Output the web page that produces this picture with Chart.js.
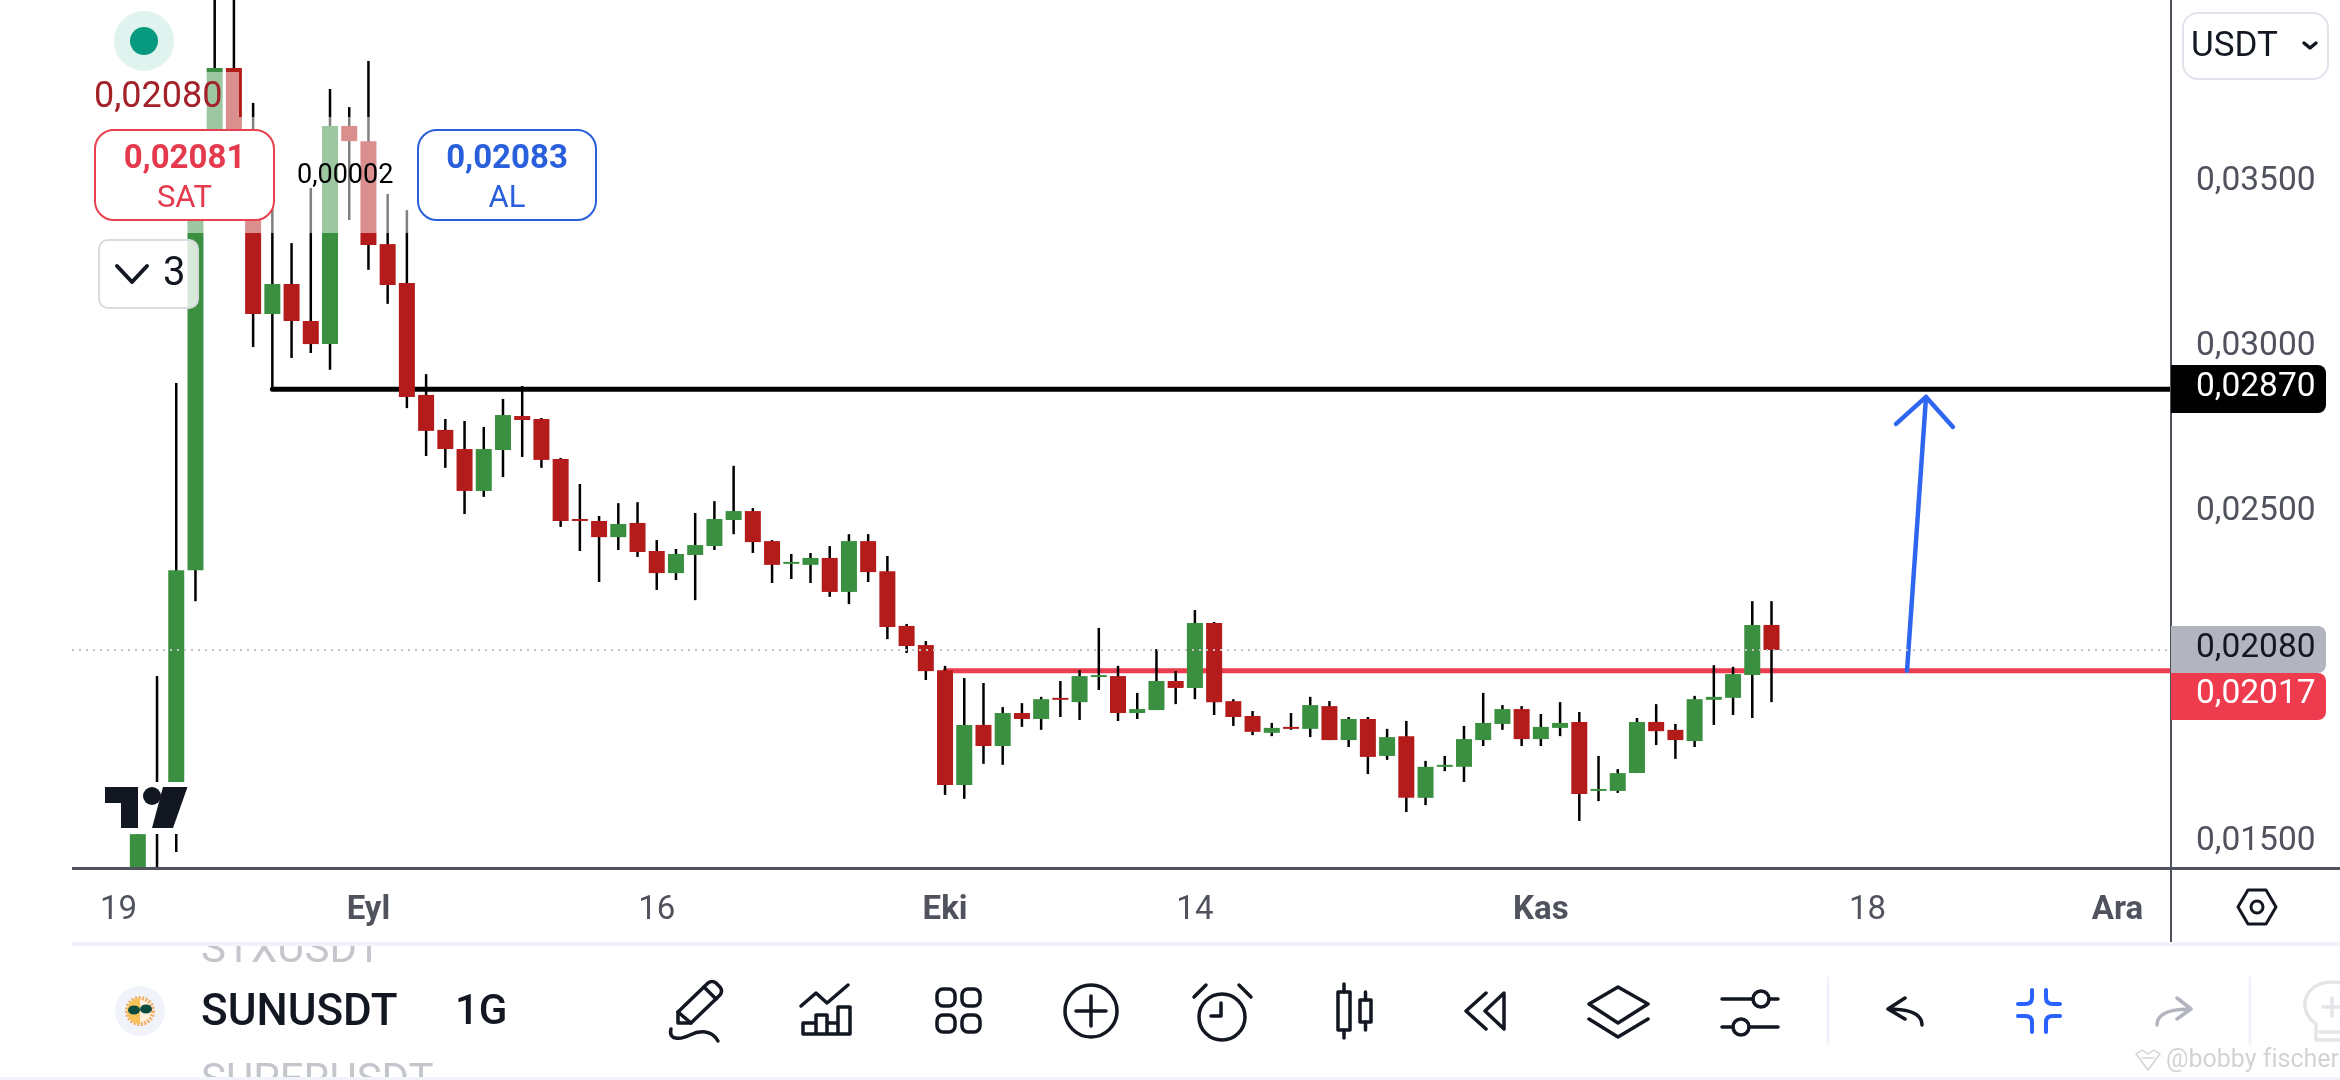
<!DOCTYPE html>
<html lang="tr"><head><meta charset="utf-8">
<style>
html,body{margin:0;padding:0;background:#fff;width:2340px;height:1080px;overflow:hidden;font-family:Roboto,sans-serif}
#c{position:absolute;left:0;top:0}
.a{position:absolute}
.t{position:absolute;height:100px;line-height:100px;white-space:nowrap}
.tag{position:absolute;left:2171px;width:155px;border-radius:0 8px 8px 0}
.ctr{text-align:center}
</style></head><body>
<canvas id="c" width="2340" height="1080"></canvas>

<div class="a" style="left:90px;top:72px;width:149px;height:45px;background:rgba(255,255,255,.5)"></div>
<div class="a" style="left:90px;top:117px;width:507px;height:116px;background:rgba(255,255,255,.5)"></div>

<div class="a" style="left:114px;top:11px;width:60px;height:60px;border-radius:50%;background:#e0f3ef"></div>
<div class="a" style="left:130px;top:27px;width:28px;height:28px;border-radius:50%;background:#089981"></div>
<div class="t" style="left:94px;top:45px;font-size:36px;color:#a3222a">0,02080</div>

<div class="a" style="left:94px;top:129px;width:177px;height:88px;border:2px solid #e8404f;border-radius:20px;background:#fff"></div>
<div class="t ctr" style="left:94px;width:181px;top:107px;font-size:33px;font-weight:700;color:#e53a4e">0,02081</div>
<div class="t ctr" style="left:94px;width:181px;top:147px;font-size:31px;color:#e53a4e">SAT</div>
<div class="a" style="left:417px;top:129px;width:176px;height:88px;border:2px solid #2a5fdc;border-radius:20px;background:#fff"></div>
<div class="t ctr" style="left:417px;width:180px;top:107px;font-size:33px;font-weight:700;color:#2a5fdc">0,02083</div>
<div class="t ctr" style="left:417px;width:180px;top:147px;font-size:31px;color:#2a5fdc">AL</div>
<div class="t" style="left:297px;top:124px;font-size:27px;color:#000">0,00002</div>

<div class="a" style="left:98px;top:239px;width:97px;height:66px;border:2px solid #d8dae0;border-radius:10px;background:rgba(255,255,255,.8)"></div>
<div class="t" style="left:163px;top:222px;font-size:40px;color:#131722">3</div>

<div class="a" style="left:2182px;top:12px;width:143px;height:64px;border:2px solid #e0e3eb;border-radius:16px;background:#fff"></div>
<div class="t" style="left:2191px;top:-5px;font-size:35px;color:#131722">USDT</div>

<div class="a" style="left:2170px;top:0;width:2px;height:942px;background:#50535e"></div>
<div class="a" style="left:72px;top:867px;width:2268px;height:3px;background:#50535e"></div>
<div class="a" style="left:72px;top:942px;width:2268px;height:4px;background:#f0f3fa"></div>
<div class="a" style="left:0;top:1077px;width:2340px;height:3px;background:#f0f3fa"></div>

<div class="tag" style="top:365px;height:48px;background:#000"></div>
<div class="t" style="left:2196px;top:335px;font-size:33.5px;color:#fff">0,02870</div>
<div class="tag" style="top:626px;height:47px;background:#b2b5be"></div>
<div class="t" style="left:2196px;top:596px;font-size:33.5px;color:#131722">0,02080</div>
<div class="tag" style="top:673px;height:47px;background:#ee3b4d"></div>
<div class="t" style="left:2196px;top:642px;font-size:33.5px;color:#fff">0,02017</div>

<div class="t" style="left:201px;top:898px;font-size:42px;color:#c4c6cc;clip-path:inset(48px -10px 0 -10px)">STXUSDT</div>
<div class="t" style="left:201px;top:1029px;font-size:42px;color:#c4c6cc;clip-path:inset(0 -10px 52px -10px)">SUPERUSDT</div>
<div class="t" style="left:201px;top:960px;font-size:44px;font-weight:500;color:#131722">SUNUSDT</div>
<div class="t" style="left:455px;top:960px;font-size:42px;font-weight:500;color:#131722">1G</div>
<div class="t" style="left:2166px;top:1009px;font-size:25px;color:#d2d3d6">@bobby fischer</div>

<svg class="a" style="left:0;top:0" width="2340" height="1080" viewBox="0 0 2340 1080" fill="none" stroke="#131722" stroke-width="3.5" stroke-linejoin="round" stroke-linecap="round">
  <rect x="100" y="782" width="90" height="52" fill="#fff" stroke="none"/>
  <path d="M105 787H138V828H121V803H105Z" fill="#131722" stroke="none"/>
  <ellipse cx="152" cy="796" rx="9" ry="9" fill="#131722" stroke="none"/>
  <path d="M163 787H187.5L173 828H152Z" fill="#131722" stroke="none"/>
  <path d="M117 266L132 282L147 266" stroke-width="4"/>
  <path d="M2304 43L2310 48L2316 43" stroke-width="3.5"/>
  <path d="M2238 907L2248 890H2266L2276 907L2266 924H2248Z" stroke-width="3"/>
  <circle cx="2257" cy="907" r="6" stroke-width="3"/>
  <circle cx="140" cy="1011" r="25" fill="#f0f3fa" stroke="none"/>
  <circle cx="140" cy="1011" r="13" fill="#fdf0dc" stroke="#f2ab63" stroke-width="4" stroke-dasharray="2 1.5" stroke-linecap="butt"/>
  <path d="M140 998A13 13 0 0 0 140 1024Z" fill="#f7c25a" stroke="none"/>
  <ellipse cx="134" cy="1010" rx="6" ry="4.5" fill="#0c4a3d" stroke="none"/>
  <ellipse cx="146" cy="1009" rx="6" ry="4.5" fill="#0c4a3d" stroke="none"/>
  <path d="M678 1012L708 983Q712 980 716 983L720 987Q723 991 720 995L691 1023H678Z"/>
  <path d="M678 1012L691 1023M704 987L716 999"/>
  <path d="M671 1029C668 1040 680 1040 690 1035C700 1030 712 1030 718 1041"/>
  <path d="M801 1006L816 993L827 1003L848 985"/>
  <path d="M803 1034V1023H816V1015H827V1023H838V1007H850V1034ZM816 1023V1034M827 1023V1034M838 1023V1034"/>
  <rect x="937" y="989" width="18" height="17" rx="6"/><rect x="962" y="989" width="18" height="17" rx="6"/>
  <rect x="937" y="1015" width="18" height="17" rx="6"/><rect x="962" y="1015" width="18" height="17" rx="6"/>
  <circle cx="1091" cy="1011" r="26"/><path d="M1091 996V1026M1076 1011H1106"/>
  <circle cx="1222" cy="1017" r="23"/><path d="M1221 1003V1016H1211M1206 985L1194 997M1239 985L1251 997"/>
  <path d="M1344 984V992M1344 1030V1038M1365.5 992V1000M1365.5 1022V1030"/>
  <rect x="1338" y="992" width="12" height="38"/><rect x="1360" y="1000" width="11" height="22"/>
  <path d="M1504 993L1485 1011L1504 1029ZM1486 993L1466 1011L1486 1029"/>
  <path d="M1618 987L1648 1004L1618 1023L1589 1004ZM1589 1019L1618 1037L1648 1019"/>
  <path d="M1722 999H1753M1769 999H1778M1722 1027H1733M1749 1027H1778"/>
  <circle cx="1761" cy="999" r="8"/><circle cx="1741" cy="1027" r="8"/>
  <path d="M1828 978V1043M2250 978V1043" stroke="#f0f3fa" stroke-width="3"/>
  <path d="M1905 998L1888 1009L1905 1019M1888 1009C1905 1009 1922 1012 1922 1025"/>
  <path d="M2032 990V998Q2032 1004 2025 1004H2018M2046 990V998Q2046 1004 2053 1004H2060M2032 1032V1022Q2032 1016 2025 1016H2018M2046 1032V1022Q2046 1016 2053 1016H2060" stroke="#2962ff" stroke-width="4"/>
  <path d="M2177 998L2191 1009L2177 1019M2191 1009C2175 1009 2157 1012 2157 1025" stroke="#b2b5be"/>
  <path d="M2316 1024C2296 1010 2304 982 2332 982C2336 982 2338 982 2340 983M2316 1024V1040H2340M2320 1032H2340M2332 998V1016M2323 1007H2340" stroke="#e4e5e8"/>
  <path d="M2136 1054L2142 1050L2148 1054L2154 1050L2160 1054L2148 1070ZM2142 1058H2154" stroke="#d2d3d6" stroke-width="1.5"/>
</svg>

<script src="https://cdn.jsdelivr.net/npm/chart.js@4"></script>
<script>
// One entry per daily candle, 20 Aug onward
const opens  = [0.01398,0.01565,0.01595,0.02322,0.03535,0.03844,0.03595,0.03098,0.03189,0.03077,0.03007,0.03668,0.03622,0.03310,0.03192,0.02853,0.02747,0.02689,0.02562,0.02686,0.02789,0.02780,0.02659,0.02477,0.02471,0.02422,0.02465,0.02380,0.02313,0.02368,0.02395,0.02474,0.02501,0.02410,0.02341,0.02338,0.02359,0.02256,0.02410,0.02319,0.02153,0.02095,0.02019,0.01671,0.01853,0.01789,0.01889,0.01871,0.01935,0.01922,0.01998,0.02001,0.01889,0.01898,0.01986,0.01965,0.02162,0.01925,0.01880,0.01829,0.01847,0.01841,0.01910,0.01807,0.01871,0.01759,0.01819,0.01632,0.01726,0.01726,0.01807,0.01856,0.01901,0.01810,0.01844,0.01862,0.01653,0.01653,0.01707,0.01862,0.01838,0.01804,0.01929,0.01935,0.02004,0.02156];
const highs  = [0.01522,0.02001,0.02889,0.03610,0.04141,0.04150,0.03738,0.03444,0.03313,0.03480,0.03780,0.03725,0.03865,0.03462,0.03413,0.02916,0.02780,0.02774,0.02756,0.02841,0.02880,0.02783,0.02662,0.02583,0.02486,0.02525,0.02528,0.02413,0.02386,0.02495,0.02531,0.02638,0.02510,0.02413,0.02371,0.02374,0.02395,0.02431,0.02431,0.02365,0.02159,0.02107,0.02032,0.01995,0.01980,0.01907,0.01919,0.01938,0.01986,0.02019,0.02147,0.02032,0.01950,0.02083,0.02016,0.02201,0.02165,0.01931,0.01895,0.01859,0.01889,0.01938,0.01925,0.01877,0.01877,0.01841,0.01865,0.01744,0.01759,0.01850,0.01950,0.01913,0.01910,0.01886,0.01922,0.01892,0.01759,0.01719,0.01874,0.01916,0.01856,0.01941,0.02034,0.02029,0.02228,0.02228];
const lows   = [0.01383,0.01383,0.01468,0.02228,0.03489,0.03444,0.02998,0.02871,0.02965,0.02980,0.02929,0.03383,0.03232,0.03129,0.02813,0.02668,0.02632,0.02492,0.02544,0.02604,0.02665,0.02632,0.02453,0.02380,0.02286,0.02383,0.02362,0.02262,0.02292,0.02231,0.02383,0.02431,0.02374,0.02283,0.02295,0.02283,0.02241,0.02219,0.02286,0.02113,0.02071,0.01989,0.01641,0.01629,0.01735,0.01732,0.01847,0.01838,0.01877,0.01868,0.01959,0.01865,0.01871,0.01898,0.01916,0.01931,0.01883,0.01850,0.01822,0.01819,0.01838,0.01816,0.01807,0.01786,0.01704,0.01747,0.01589,0.01610,0.01713,0.01680,0.01789,0.01838,0.01789,0.01789,0.01819,0.01562,0.01622,0.01647,0.01707,0.01792,0.01750,0.01786,0.01853,0.01883,0.01874,0.01922];
const closes = [0.01522,0.01625,0.02322,0.03535,0.03844,0.03595,0.03098,0.03189,0.03077,0.03007,0.03668,0.03622,0.03307,0.03186,0.02847,0.02744,0.02689,0.02562,0.02689,0.02792,0.02777,0.02656,0.02471,0.02471,0.02422,0.02462,0.02377,0.02313,0.02371,0.02398,0.02477,0.02501,0.02407,0.02338,0.02347,0.02359,0.02256,0.02410,0.02316,0.02150,0.02092,0.02016,0.01671,0.01853,0.01789,0.01889,0.01871,0.01931,0.01929,0.02001,0.02004,0.01889,0.01901,0.01986,0.01965,0.02162,0.01922,0.01877,0.01832,0.01844,0.01841,0.01913,0.01807,0.01871,0.01756,0.01816,0.01632,0.01726,0.01732,0.01810,0.01859,0.01901,0.01810,0.01847,0.01859,0.01644,0.01659,0.01707,0.01862,0.01834,0.01807,0.01931,0.01938,0.02007,0.02156,0.02080];

// x-axis: day numbers counted from the first candle
const tickDays   = [-1,12,27,42,55,73,90,103];
const tickLabels = ['19','Eyl','16','Eki','14','Kas','18','Ara'];
const monthTicks = ['Eyl','Eki','Kas','Ara'];
const priceTicks = [0.015,0.025,0.03,0.035];

const lastPrice   = 0.0208;
const resistance  = 0.0287;
const supportLine = 0.02017;
const resistanceStartDay = 7;
const supportStartDay    = 42;
const arrowShaft = [[92.05,0.02017],[93.04,0.02847]];
const arrowHead  = [[91.48,0.02765],[93.04,0.02847],[94.44,0.02756]];

const xMin = -3.424, xMax = 105.786, yMin = 0.014194, yMax = 0.040497;
const UP = '#3a8f40', DOWN = '#b41c1c';

const days = opens.map((_, i) => i);
const pts = a => a.map(p => ({x:p[0], y:p[1]}));
const lineDs = (data, color, width, order, extra) => Object.assign({
  type:'line', data, borderColor:color, borderWidth:width, pointRadius:0, order,
  borderCapStyle:'round', borderJoinStyle:'round', tension:0
}, extra||{});
const isMonth = c => !!c.tick && monthTicks.includes(tickLabels[tickDays.indexOf(c.tick.value)]);
const noPad = s => { s.paddingTop = s.paddingBottom = s.paddingLeft = s.paddingRight = 0; };

new Chart(document.getElementById('c'), {
  type:'bar',
  data:{datasets:[
    { label:'body', order:1, grouped:false, barThickness:16, borderWidth:0, inflateAmount:0,
      data:days.map(i => ({x:i, y:[opens[i], closes[i]]})),
      backgroundColor:days.map(i => closes[i] >= opens[i] ? UP : DOWN) },
    { label:'wick', order:2, grouped:false, barThickness:2.5, borderWidth:0, inflateAmount:0,
      data:days.map(i => ({x:i, y:[lows[i], highs[i]]})),
      backgroundColor:'#000' },
    lineDs([{x:resistanceStartDay,y:resistance},{x:xMax,y:resistance}], '#000', 5, 3),
    lineDs([{x:supportStartDay,y:supportLine},{x:xMax,y:supportLine}], '#ec3d4f', 5, 3),
    lineDs([{x:xMin,y:lastPrice},{x:xMax,y:lastPrice}], '#c4c4c4', 2, 0, {borderDash:[2,5], borderCapStyle:'butt'}),
    lineDs(pts(arrowShaft), '#2f66f0', 4.5, 0),
    lineDs(pts(arrowHead), '#2f66f0', 4.5, 0)
  ]},
  options:{
    responsive:false, animation:false, devicePixelRatio:1,
    layout:{autoPadding:false, padding:{left:72,right:0,top:0,bottom:0}},
    plugins:{legend:{display:false},tooltip:{enabled:false}},
    scales:{
      x:{
        type:'linear', offset:false, min:xMin, max:xMax,
        grid:{display:false,drawTicks:false}, border:{display:false},
        afterBuildTicks:s => { s.ticks = tickDays.map(v => ({value:v})); },
        afterFit:s => { s.height = 212; noPad(s); },
        ticks:{
          autoSkip:false, maxRotation:0, padding:23, color:'#50535e',
          callback:v => tickLabels[tickDays.indexOf(v)],
          font:c => ({family:'Roboto', size:33, weight: isMonth(c) ? '700' : '400'})
        }
      },
      y:{
        type:'linear', position:'right', min:yMin, max:yMax,
        grid:{display:false,drawTicks:false}, border:{display:false},
        afterBuildTicks:s => { s.ticks = priceTicks.map(v => ({value:v})); },
        afterFit:s => { s.width = 169; noPad(s); },
        ticks:{
          autoSkip:false, padding:25, color:'#50535e',
          font:{family:'Roboto', size:33.5},
          callback:v => v.toFixed(5).replace('.',',')
        }
      }
    }
  }
});
</script>
</body></html>
